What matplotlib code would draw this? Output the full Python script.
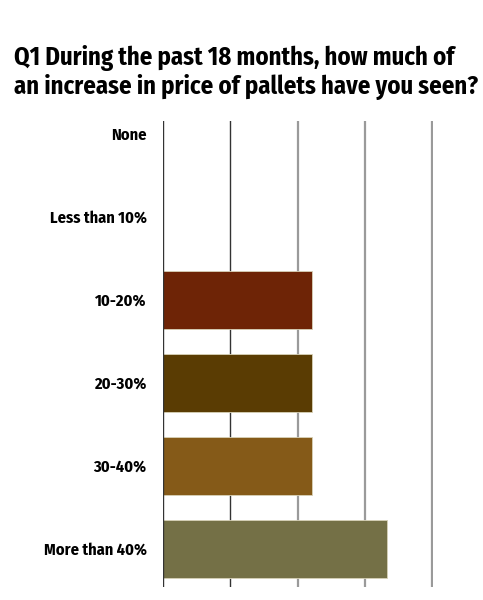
import matplotlib
matplotlib.use("Agg")
import matplotlib.pyplot as plt
from matplotlib import font_manager

# survey answers, top to bottom
categories = ["None", "Less than 10%", "10-20%", "20-30%", "30-40%", "More than 40%"]
percent = [0, 0, 22.22, 22.22, 22.22, 33.33]
bar_colors = ["#6e2406", "#6e2406", "#6e2406", "#5a3c03", "#855a18", "#747046"]
grid_ticks = [0, 10, 20, 30, 40]
title_lines = ["Q1 During the past 18 months, how much of",
               "an increase in price of pallets have you seen?"]

names = {f.name for f in font_manager.fontManager.ttflist}
fam = [n for n in ["Fira Sans Condensed", "PT Sans Narrow"] if n in names] + ["DejaVu Sans"]
plt.rcParams["font.family"] = fam

fig = plt.figure(figsize=(4.83, 6), dpi=100)
ax = fig.add_axes([0.3381, 0.022, 0.5585, 0.776])

ypos = list(range(len(categories)))
lws = [0.6 if v > 0 else 0 for v in percent]
ax.barh(ypos, percent, height=0.70, color=bar_colors, edgecolor="#d8d2b8",
        linewidth=lws, zorder=3)

for t in grid_ticks:
    c = "#333333" if t <= 10 else "#9a9a9a"
    lw = 1.0 if t <= 10 else 1.6
    ax.axvline(t, color=c, lw=lw, zorder=1 if t else 4)

ax.set_xlim(0, 40.2)
ax.set_ylim(5.46, -0.15)
ax.set_yticks(ypos)
ax.set_yticklabels(categories, fontsize=11.8, fontweight="bold")
ax.tick_params(axis="y", length=0, pad=12)
ax.set_xticks([])
for s in ax.spines.values():
    s.set_visible(False)

fig.text(0.029, 0.8917, title_lines[0], fontsize=17.8, fontweight="bold",
         ha="left", va="baseline")
fig.text(0.029, 0.8433, title_lines[1], fontsize=17.8, fontweight="bold",
         ha="left", va="baseline")

fig.savefig("out.png", dpi=100)
